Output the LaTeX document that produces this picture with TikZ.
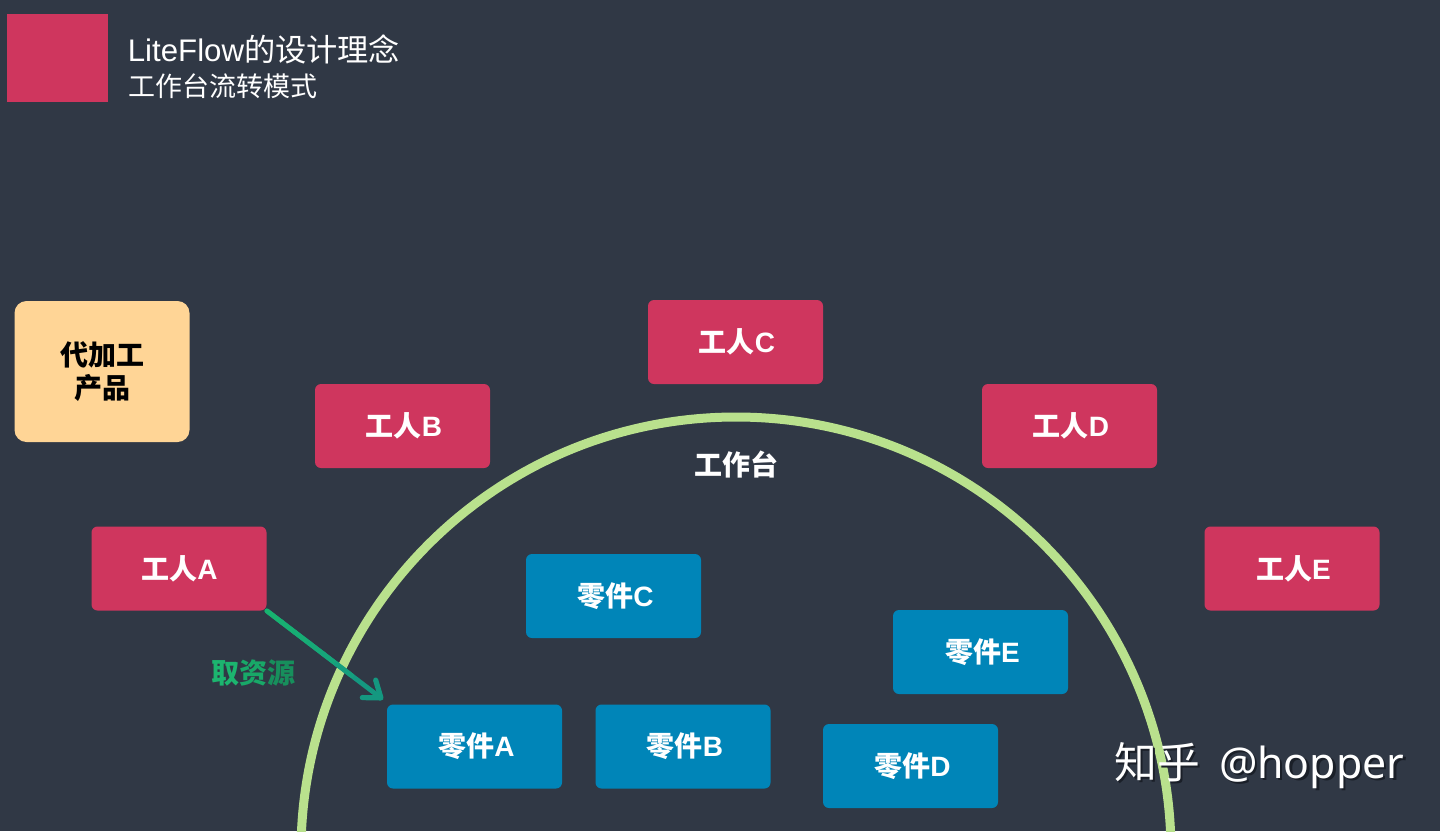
\documentclass[tikz,border=0pt]{standalone}
\usepackage{fontspec}
\setmainfont{Liberation Sans}
\newfontfamily\cjk{Noto Sans CJK SC}
\newfontfamily\wm{Noto Sans}
\usetikzlibrary{arrows.meta,calc}
\definecolor{bgc}{HTML}{303845}
\definecolor{redc}{HTML}{CF365E}
\definecolor{bluec}{HTML}{0085B8}
\definecolor{arcc}{HTML}{B9E18D}
\definecolor{peach}{HTML}{FFD596}
\definecolor{shadowc}{HTML}{1A1F28}
\tikzset{
  box/.style={minimum width=87.5pt,minimum height=42pt,rounded corners=3pt,inner sep=0pt,text=white,font=\fontsize{14}{17}\selectfont\bfseries},
  worker/.style={box,fill=redc},
  part/.style={box,fill=bluec},
  flowseg/.style={line width=2.4pt,line cap=round},
}
\newcommand{\cb}[1]{{\cjk\bfseries #1}}
\newcommand{\shiftlabel}[1]{\raisebox{-0.5pt}{\hspace{1.5pt}#1}}
\newcommand{\shiftpart}[1]{\raisebox{-1pt}{\hspace{2pt}#1}}
\begin{document}
\begin{tikzpicture}[x=0.5pt,y=-0.5pt]
\useasboundingbox (0,0) rectangle (1440,831);
\fill[bgc] (0,0) rectangle (1440,831);
\begin{scope}
\clip (0,0) rectangle (1440,831);
\node[circle,draw=arcc,line width=4.5pt,minimum size=435pt,inner sep=0pt] (bench) at (736,852) {};
\end{scope}
\node[fill=redc,minimum width=50.5pt,minimum height=44pt,inner sep=0pt] (logo) at (57.5,58) {};
\node[anchor=west,inner sep=0pt,text=white,font=\fontsize{15.6}{18}\selectfont] (title) at (127.5,49.5) {LiteFlow{\cjk 的设计理念}};
\node[anchor=west,inner sep=0pt,text=white,font=\fontsize{13.5}{16}\selectfont] (subtitle) at (128,86) {\cjk 工作台流转模式};
\node[box,fill=peach,text=black,minimum height=70.5pt,rounded corners=6pt,align=center] (todo) at (102,371.5) {\cb{代加工}\\[-0.5pt]\cb{产品}};
\node[worker] (wa) at (179,568.5) {\raisebox{-0.5pt}{\hspace{0.4pt}\cb{工人}A}};
\node[worker] (wb) at (402.5,426) {\shiftlabel{\cb{工人}B}};
\node[worker] (wc) at (735.5,342) {\shiftlabel{\cb{工人}C}};
\node[worker] (wd) at (1069.5,426) {\shiftlabel{\cb{工人}D}};
\node[worker] (we) at (1292,568.5) {\shiftlabel{\cb{工人}E}};
\node[part] (pc) at (613.5,596) {\shiftpart{\cb{零件}C}};
\node[part] (pe) at (980.5,652) {\shiftpart{\cb{零件}E}};
\node[part] (pa) at (474.5,746.5) {\shiftpart{\cb{零件}A}};
\node[part] (pb) at (683,746.5) {\shiftpart{\cb{零件}B}};
\node[part] (pd) at (910.5,766) {\shiftpart{\cb{零件}D}};
\node[inner sep=0pt,text=white,font=\fontsize{14}{17}\selectfont] (benchlabel) at (736,465) {\cb{工作台}};
\node[inner sep=0pt,font=\fontsize{14}{17}\selectfont] (fetch) at (253,672.5) {\cb{\textcolor[HTML]{1CB56F}{取}\textcolor[HTML]{18A868}{资}\textcolor[HTML]{178F5C}{源}}};
\coordinate (tip) at (383,699.5);
\draw[flowseg,color={rgb,255:red,20;green,152;blue,128},-{Straight Barb[round,length=7.5pt,width=11pt,line width=2.6pt]}] (wa.south east) -- (tip);
\foreach \t/\c in {0/18B36F,0.12/18B072,0.24/17AD74,0.36/17A977,0.48/16A67A,0.6/159F7E}{
  \definecolor{segc}{HTML}{\c}
  \draw[flowseg,color=segc] ($(wa.south east)!\t!(tip)$) -- ($(wa.south east)!\t+0.13!(tip)$);
}
\node[anchor=west,inner sep=0pt,text=shadowc,font=\fontsize{21.4}{26}\selectfont] (wmshadow) at (1116.5,768) {{\cjk 知乎}\hspace{9.5pt}{\wm @hopper}};
\node[anchor=west,inner sep=0pt,text=white,font=\fontsize{21.4}{26}\selectfont] (wmark) at (1114,766) {{\cjk 知乎}\hspace{9.5pt}{\wm @hopper}};
\end{tikzpicture}
\end{document}
